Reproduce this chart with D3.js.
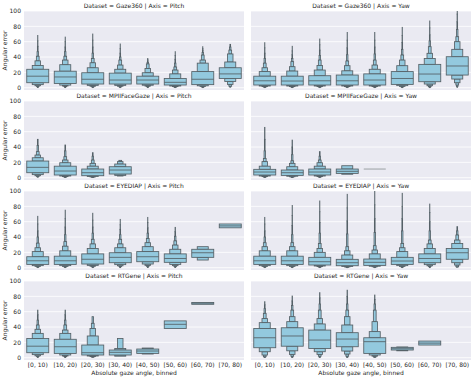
<!DOCTYPE html>
<html>
<head>
<meta charset="utf-8">
<script src="https://cdn.jsdelivr.net/npm/d3@7"></script>
<style>
body{margin:0;background:#fff;}
text{font-family:"DejaVu Sans",sans-serif;fill:#262626;}
</style>
</head>
<body>
<svg id="chart"></svg>
<script>
//the bins on the x axis
var bins = ["[0, 10)","[10, 20)","[20, 30)","[30, 40)","[40, 50)","[50, 60)","[60, 70)","[70, 80)"];
var datasets = ["Gaze360","MPIIFaceGaze","EYEDIAP","RTGene"];
var axisNames = ["Pitch","Yaw"];
var yTicks = [0,20,40,60,80,100];

//letter values per bin: m = median, lo = q25 then going down, hi = q75 then going up
var gaze360Pitch = [
    {m:15, lo:[6.5,4,2.6,1.7,1.1,0.7,0.4,0.2], hi:[24,29,35,41,47,54,61,68]},
    {m:14, lo:[5.4,3.4,2.2,1.4,0.9,0.5,0.3,0.1], hi:[21.5,30,36,41,47,53,60,66]},
    {m:11, lo:[4.8,3,1.9,1.2,0.8,0.5,0.3,0.1], hi:[19.5,26,32.5,38,45,53,62,70]},
    {m:10, lo:[4.8,3,1.9,1.2,0.8,0.5,0.3,0.1], hi:[19,24,29.5,36,40,45,51,57]},
    {m:10, lo:[4.8,3.2,2.1,1.4,0.9,0.6,0.3,0.1], hi:[15,19.5,25,31,33,35,37,38]},
    {m:7, lo:[3.5,2.2,1.4,0.9,0.6,0.4,0.2,0.1], hi:[12,18,23,27,32,37,42,47]},
    {m:11, lo:[4,2.5,1.6,1,0.7,0.4,0.2,0.1], hi:[21,32,36,42.5,46,49,51,53.5]},
    {m:18, lo:[12,8,4.3,2,1.2,0.7], hi:[26,33.5,44,49,53,56.5]}
];
var gaze360Yaw = [
    {m:9, lo:[3.5,2.2,1.4,0.9,0.6,0.4,0.2,0.1], hi:[15,21,26,32,38,45,52,58.7]},
    {m:8.7, lo:[3.5,2.2,1.4,0.9,0.6,0.4,0.2,0.1], hi:[15,21.7,27.4,34,38,43,48,54]},
    {m:9, lo:[3.5,2.2,1.4,0.9,0.6,0.4,0.2,0.1], hi:[15.6,23,29,36,42,49,56,63.5]},
    {m:9, lo:[3.5,2.2,1.4,0.9,0.6,0.4,0.2,0.1], hi:[16.5,22,28.7,34.8,43,52,62,72]},
    {m:10, lo:[3.5,2.2,1.4,0.9,0.6,0.4,0.2,0.1], hi:[18,24,29.5,36,44,53,62,72]},
    {m:12, lo:[4.3,2.7,1.7,1.1,0.7,0.4,0.2,0.1], hi:[21,28.7,36,42.6,50,59,68,78.7]},
    {m:17.8, lo:[7.8,4.8,2.6,1.3,0.8,0.5,0.3,0.1], hi:[30.4,38,44.8,53.5,61,69,78,87]},
    {m:28.3, lo:[16.5,11.3,6.5,3.5,1.5,0.5], hi:[40.4,50,60,66.5,76,86,96,104]}
];
var mpiiPitch = [
    {m:13.5, lo:[6.5,4,2.6,1.7,1.1,0.7], hi:[21.7,26,29.5,34,42,50]},
    {m:8.7, lo:[3.5,2.2,1.4,0.9,0.6,0.3], hi:[15,19.5,23,27.4,35,42.6]},
    {m:6.5, lo:[2.6,1.6,1,0.6,0.4,0.2], hi:[11.3,15,18.7,23,28,32.6]},
    {m:10, lo:[4.8,3,2.2], hi:[14.3,17.8,21,22.6]},
    null, null, null, null
];
var mpiiYaw = [
    {m:7.4, lo:[3.5,2.2,1.4,0.9,0.6,0.4,0.2], hi:[10.9,15,21,25,35,50,65.6]},
    {m:6.5, lo:[3,1.9,1.2,0.8,0.5,0.3,0.15], hi:[10,14.3,18.7,22,30,40,49]},
    {m:7.4, lo:[3.5,2.2,1.4,0.9,0.6,0.3], hi:[11.3,15,19.5,23,28,34]},
    {m:8.3, lo:[5.6,4.5], hi:[11.3,15.6]},
    {m:11.3, lo:[], hi:[]},
    null, null, null
];
var eyediapPitch = [
    {m:9, lo:[4.3,2.7,1.7,1.1,0.7,0.4,0.2,0.1], hi:[14.3,21,26,32,40,48,57,67]},
    {m:9, lo:[4.3,2.7,1.7,1.1,0.7,0.4,0.2,0.1], hi:[15,22,28,34,43,53,64,75]},
    {m:11, lo:[4.8,3,1.9,1.2,0.8,0.5,0.3,0.1], hi:[18,25,31,37,45,53,62,71]},
    {m:13.5, lo:[6.5,4,2.5,1.6,1,0.6,0.3,0.1], hi:[19.5,26,31,37,43,50,56,63]},
    {m:14.3, lo:[7.8,4.8,3,1.9,1.2,0.7,0.4,0.2], hi:[21,27.4,32.6,38,45,52,59,65.6]},
    {m:12, lo:[7,4.3,2.7,1.7,1.1,0.6,0.3], hi:[18,24,29.5,35,41,47,52.6]},
    {m:19.5, lo:[13.5,10], hi:[24,27.4]},
    {m:54.5, lo:[52], hi:[57]}
];
var eyediapYaw = [
    {m:9, lo:[4.3,2.7,1.7,1.1,0.7,0.4,0.2,0.1], hi:[15,22,27.4,32.6,40,48,57,65.6]},
    {m:9, lo:[4.3,2.7,1.7,1.1,0.7,0.4,0.2,0.1], hi:[15,22,27.4,32.6,43,55,68,81]},
    {m:7.8, lo:[3.5,2.2,1.4,0.9,0.6,0.3,0.2,0.1], hi:[13.5,20,25,31.6,45,59,73,87]},
    {m:6.5, lo:[2.6,1.6,1,0.6,0.4,0.2,0.1,0.05], hi:[10.9,16.5,22,27.4,44,61,78,95.7]},
    {m:7, lo:[3,1.9,1.2,0.8,0.5,0.3,0.15,0.05], hi:[11.3,18,23,28.7,46,64,82,100]},
    {m:8.7, lo:[4.3,2.7,1.7,1.1,0.7,0.4,0.2,0.1], hi:[13.5,21,26,31.6,48,64,80,97]},
    {m:12, lo:[6.5,4,2.5,1.6,1,0.6,0.3,0.1], hi:[18,25,31,36,48,60,72,83]},
    {m:19.5, lo:[11,6.5,3.5,1.3,0.6], hi:[25,31.6,36,42.6,48,53.5]}
];
var rtgenePitch = [
    {m:15, lo:[6.5,4,2.5,1.6,1,0.6,0.3], hi:[25,31.7,37,42.6,49,56,62]},
    {m:14.3, lo:[5.6,3.5,2.2,1.4,0.9,0.5,0.3], hi:[24,31.7,36,42.6,49,56,62]},
    {m:6.5, lo:[3.5,2.2,1.4,0.9,0.5], hi:[16.5,28.3,38,44.8,53.5]},
    {m:7, lo:[3.5,2], hi:[10,12,25]},
    {m:8.7, lo:[5.6,4.8], hi:[11.3,12.6]},
    {m:43.5, lo:[38], hi:[48]},
    {m:71, lo:[69.6], hi:[72]},
    null
];
var rtgeneYaw = [
    {m:26, lo:[13,7.8,3.5,1.3,0.6,0.3], hi:[38,45.7,51,57.8,64,69,73]},
    {m:28.3, lo:[15,9,4.3,2,0.8,0.3], hi:[39,47,53.5,62,68,74,80.4]},
    {m:23, lo:[12,7.8,4.3,2,0.8,0.3], hi:[36,44,51,62,70,78,84.8]},
    {m:24.3, lo:[14.3,8.7,4.8,2,0.8,0.3], hi:[32.6,42.6,53.5,62,70,80,88]},
    {m:20.9, lo:[5.6,3.5,2,1,0.4], hi:[26,34,47,62,70,76,81.7]},
    {m:11.7, lo:[10,9], hi:[13.5,14]},
    {m:19, lo:[16.5], hi:[21.7]},
    null
];

//rows are datasets, columns are pitch / yaw
var panels = [
    [gaze360Pitch,gaze360Yaw],
    [mpiiPitch,mpiiYaw],
    [eyediapPitch,eyediapYaw],
    [rtgenePitch,rtgeneYaw]
];

var fill = "#93c9de";
var edge = "#556066";
var fontSize = "6px";

//draws one letter value box
var drawBoxen = function(g,box,cx,bw,yScale)
{
    if(box.lo.length==0)
    {
        g.append("line")
            .attr("x1",cx-bw/2).attr("x2",cx+bw/2)
            .attr("y1",yScale(box.m)).attr("y2",yScale(box.m))
            .attr("stroke","#9aa0a3")
            .attr("stroke-width",1);
        return;
    }
    var rect = function(a,b,w)
    {
        g.append("rect")
            .attr("x",cx-w/2)
            .attr("width",w)
            .attr("y",yScale(b))
            .attr("height",Math.max(0,yScale(a)-yScale(b)))
            .attr("fill",fill)
            .attr("stroke",edge)
            .attr("stroke-width",0.85);
    }
    //outer levels first so the wide ones sit on top
    var n = Math.max(box.lo.length,box.hi.length);
    for(var i=n-1;i>=1;i--)
    {
        var w = bw*Math.pow(0.5,i);
        if(i<box.hi.length) rect(box.hi[i-1],box.hi[i],w);
        if(i<box.lo.length) rect(box.lo[i],box.lo[i-1],w);
    }
    rect(box.lo[0],box.hi[0],bw);
    g.append("line")
        .attr("x1",cx-bw/2).attr("x2",cx+bw/2)
        .attr("y1",yScale(box.m)).attr("y2",yScale(box.m))
        .attr("stroke",edge)
        .attr("stroke-width",0.85);
}

var initGraph = function(target)
{
    var screen = {width:474, height:378};
    var panel = {width:220, height:79};
    var lefts = [24,251];

    var svg = d3.select(target)
        .attr("width",screen.width)
        .attr("height",screen.height);

    panels.forEach(function(row,r)
    {
        row.forEach(function(boxes,c)
        {
            var x0 = lefts[c];
            var y0 = 11+90*r;

            var xScale = d3.scaleBand()
                .domain(bins)
                .range([0,panel.width]);
            var yScale = d3.scaleLinear()
                .domain([-3,100])
                .range([panel.height,0]);

            var g = svg.append("g")
                .attr("transform","translate("+x0+","+y0+")");

            g.append("rect")
                .attr("width",panel.width)
                .attr("height",panel.height)
                .attr("fill","#eaeaf2");

            //white grid lines
            g.selectAll(".grid")
                .data(yTicks)
                .enter()
                .append("line")
                .attr("x1",0).attr("x2",panel.width)
                .attr("y1",function(d){return yScale(d);})
                .attr("y2",function(d){return yScale(d);})
                .attr("stroke","#fff")
                .attr("stroke-width",0.8);

            var clipId = "clip"+r+"_"+c;
            g.append("clipPath").attr("id",clipId)
                .append("rect")
                .attr("width",panel.width)
                .attr("height",panel.height);

            var plot = g.append("g").attr("clip-path","url(#"+clipId+")");
            boxes.forEach(function(box,i)
            {
                if(box==null) return;
                var cx = xScale(bins[i])+xScale.bandwidth()/2;
                drawBoxen(plot,box,cx,xScale.bandwidth()*0.8,yScale);
            });

            //panel title
            g.append("text")
                .attr("x",panel.width/2)
                .attr("y",-3)
                .attr("text-anchor","middle")
                .attr("font-size",fontSize)
                .text("Dataset = "+datasets[r]+" | Axis = "+axisNames[c]);

            if(c==0)
            {
                var yAxis = d3.axisLeft(yScale).tickValues(yTicks).tickSize(0).tickPadding(3);
                var ya = g.append("g").call(yAxis);
                ya.select(".domain").remove();
                ya.selectAll("text").attr("font-size",fontSize).attr("fill","#262626")
                    .attr("font-family","DejaVu Sans");

                g.append("text")
                    .attr("transform","translate(-17,"+(panel.height/2)+") rotate(-90)")
                    .attr("text-anchor","middle")
                    .attr("font-size",fontSize)
                    .text("Angular error");
            }
            if(r==3)
            {
                var xAxis = d3.axisBottom(xScale).tickSize(0).tickPadding(3);
                var xa = g.append("g")
                    .attr("transform","translate(0,"+panel.height+")")
                    .call(xAxis);
                xa.select(".domain").remove();
                xa.selectAll("text").attr("font-size",fontSize).attr("fill","#262626")
                    .attr("font-family","DejaVu Sans");

                g.append("text")
                    .attr("x",panel.width/2)
                    .attr("y",panel.height+15)
                    .attr("text-anchor","middle")
                    .attr("font-size",fontSize)
                    .text("Absolute gaze angle, binned");
            }
        });
    });
}

initGraph("#chart");
</script>
</body>
</html>
